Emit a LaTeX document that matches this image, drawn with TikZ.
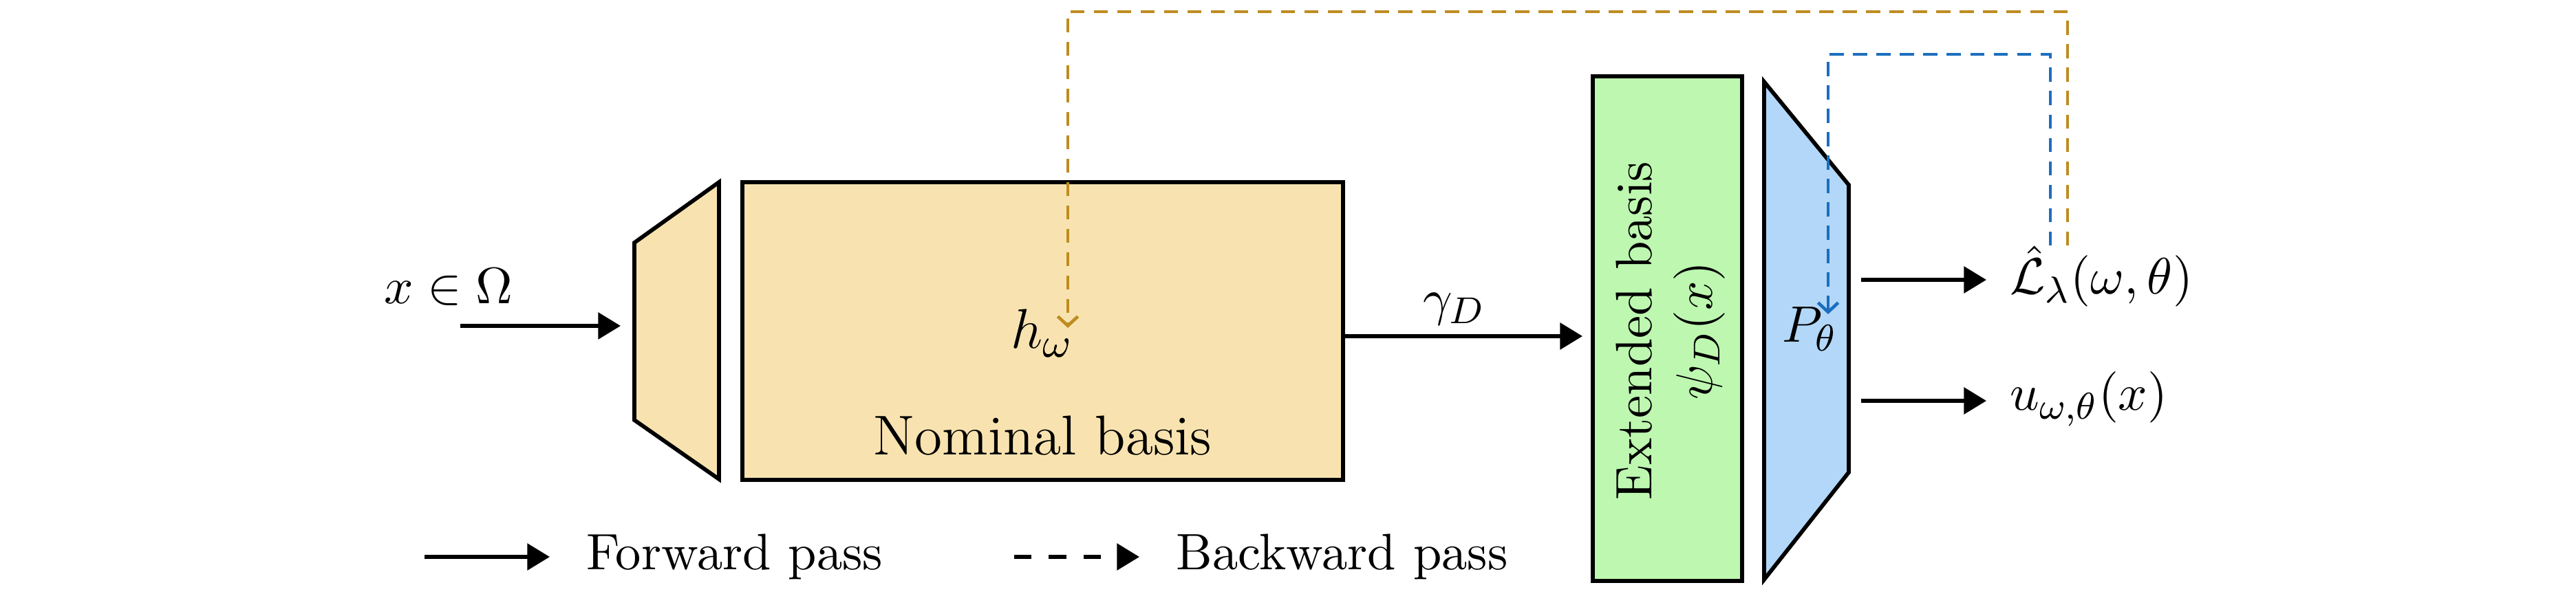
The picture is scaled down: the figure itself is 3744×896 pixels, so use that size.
\documentclass[tikz,border=0pt]{standalone}
\usetikzlibrary{arrows.meta}
\definecolor{nomfill}{RGB}{248,227,176}
\definecolor{extfill}{RGB}{189,247,176}
\definecolor{projfill}{RGB}{178,215,248}
\definecolor{orangeline}{RGB}{190,140,32}
\definecolor{blueline}{RGB}{28,110,190}
\begin{document}
\begin{tikzpicture}[x=0.147pt,y=-0.147pt,
  fwd/.style={line width=0.85pt,-{Triangle[length=4.8pt,width=5.6pt]}},
  bwdbase/.style={line width=0.68pt,dash pattern=on 3pt off 2pt,-{Straight Barb[length=2pt,width=4.3pt]}},
  bwdO/.style={bwdbase,color=orangeline},
  bwdB/.style={bwdbase,color=blueline},
  blockbox/.style={draw,line width=0.85pt,inner sep=0pt},
  lbl/.style={inner sep=0pt,anchor=base west,font=\fontsize{10.95}{13.6}\selectfont}
]
\useasboundingbox (0,0) rectangle (3744,896);

% encoder trapezoid
\draw[line width=0.85pt,fill=nomfill] (922,353) -- (1045,265) -- (1045,697) -- (922,611) -- cycle;
\coordinate (enc) at (922,474);

% nominal basis box
\node[blockbox,fill=nomfill,minimum width=128.33pt,minimum height=63.65pt] (nom) at (1515.5,481.5) {};
\node[inner sep=0pt,anchor=base,font=\fontsize{12}{14.5}\selectfont] (nomtxt) at (1515.5,662) {Nominal basis};
\node[inner sep=0pt,anchor=base west,font=\fontsize{13.2}{16}\selectfont] (hw) at (1468,507) {$h_\omega$};

% extended basis box
\node[blockbox,fill=extfill,minimum width=31.9pt,minimum height=107.9pt] (ext) at (2423.5,478) {};
\node[inner sep=0pt,rotate=90,align=center,font=\fontsize{10.95}{12.9}\selectfont] (exttxt) at (2428,481) {Extended basis\\ $\psi_D(x)$};

% projection trapezoid
\draw[line width=0.85pt,fill=projfill] (2564,119) -- (2687,269) -- (2687,687) -- (2564,843) -- cycle;
\node[lbl] (pth) at (2589,498) {$P_\theta$};

% labels
\node[lbl] (xin) at (557,442) {$x\in\Omega$};
\node[lbl] (gam) at (2067,459) {$\gamma_D$};
\node[lbl] (loss) at (2920,428) {$\hat{\mathcal{L}}_\lambda(\omega,\theta)$};
\node[lbl] (uout) at (2920,597) {$u_{\omega,\theta}(x)$};

% forward arrows
\coordinate (a0) at (669,474);
\coordinate (a1) at (902,474);
\draw[fwd] (a0) -- (a1);
\coordinate (g0) at (1952,489);
\coordinate (g1) at (2300,489);
\draw[fwd] (g0) -- (g1);
\coordinate (l0) at (2705,407);
\coordinate (l1) at (2887,407);
\draw[fwd] (l0) -- (l1);
\coordinate (u0) at (2705,583);
\coordinate (u1) at (2887,583);
\draw[fwd] (u0) -- (u1);

% backward arrows
\coordinate (bo0) at (3005,357);
\coordinate (bo1) at (1552,477);
\draw[bwdO] (bo0) -- (3005,17) -| (bo1);
\coordinate (bb0) at (2980,357);
\coordinate (bb1) at (2657,457);
\draw[bwdB] (bb0) -- (2980,79) -| (bb1);

% legend
\coordinate (f0) at (617,810);
\coordinate (f1) at (799,810);
\draw[fwd] (f0) -- (f1);
\node[lbl] (ftxt) at (851,829) {Forward pass};
\coordinate (k0) at (1474,810);
\coordinate (k1) at (1656,810);
\draw[fwd,dash pattern=on 3.7pt off 3.7pt] (k0) -- (k1);
\node[lbl] (btxt) at (1708,829) {Backward pass};
\end{tikzpicture}
\end{document}
